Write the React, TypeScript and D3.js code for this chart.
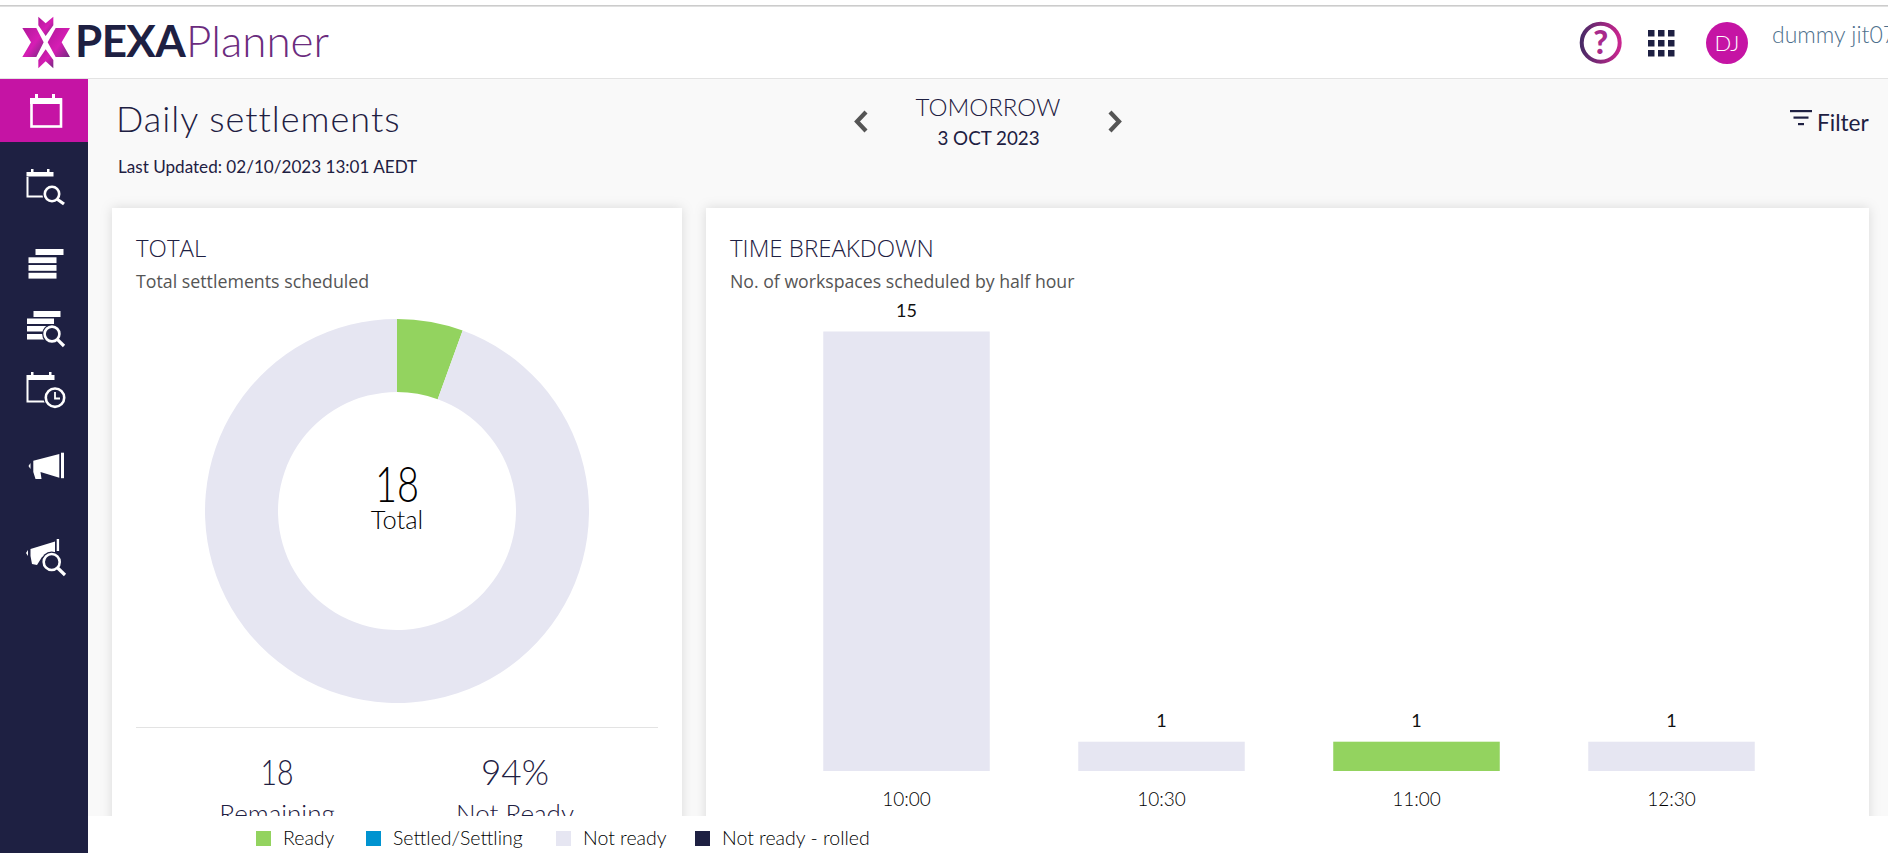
import React from "react";
import * as d3 from "d3";

const WIDTH = 1888;
const HEIGHT = 853;

// chart values
const donutLabels = ["Ready", "Not ready"];
const donutValues = [1, 17];
const slots = ["10:00", "10:30", "11:00", "12:30"];
const slotCounts = [15, 1, 1, 1];
const slotStatus = ["Not ready", "Not ready", "Ready", "Not ready"];
const legendLabels = ["Ready", "Settled/Settling", "Not ready", "Not ready - rolled"];
const legendColors = ["#93d35f", "#0093d0", "#e6e6f2", "#1e2042"];

const NAVY = "#1e2042";
const MAGENTA = "#c514a4";
const BODY_FONT = "Lato, 'Open Sans', sans-serif";
const HEAD_FONT = "'Open Sans', Lato, sans-serif";

const statusColor = d3.scaleOrdinal<string, string>().domain(legendLabels).range(legendColors);

const Lens = ({ cx, cy, r, x2, y2 }: { cx: number; cy: number; r: number; x2: number; y2: number }) => (
    <g>
        <circle cx={cx} cy={cy} r={r + 2.5} fill={NAVY} />
        <circle cx={cx} cy={cy} r={r} fill={NAVY} stroke="#fff" strokeWidth={2.6} />
        <line x1={cx + r * 0.72} y1={cy + r * 0.72} x2={x2} y2={y2} stroke="#fff" strokeWidth={3.2} />
    </g>
);

const Sidebar = () => (
    <g>
        <rect x={0} y={79} width={88} height={HEIGHT - 79} fill={NAVY} />
        <rect x={0} y={79} width={88} height={63} fill={MAGENTA} />
        {/* calendar */}
        <rect x={31.5} y={99.5} width={29.5} height={27} fill="none" stroke="#fff" strokeWidth={2.6} />
        <rect x={30} y={98} width={32} height={6} fill="#fff" />
        <rect x={35} y={94} width={3} height={5} fill="#fff" />
        <rect x={52} y={94} width={3} height={5} fill="#fff" />
        {/* calendar search */}
        <rect x={26.5} y={172} width={27} height={4.5} fill="#fff" />
        <rect x={31} y={169} width={2.5} height={4} fill="#fff" />
        <rect x={47} y={169} width={2.5} height={4} fill="#fff" />
        <path d="M27.5 177V196.5H43" fill="none" stroke="#fff" strokeWidth={2} />
        <Lens cx={52} cy={194} r={7.2} x2={64} y2={204} />
        {/* workspace list */}
        <rect x={35.5} y={249} width={28} height={6} fill="#fff" />
        <rect x={28.5} y={257.3} width={28} height={5.8} fill="#fff" />
        <rect x={28.5} y={265} width={28} height={5.8} fill="#fff" />
        <rect x={28.5} y={272.8} width={28} height={5.8} fill="#fff" />
        {/* workspace search */}
        <rect x={33.5} y={311} width={27} height={6} fill="#fff" />
        <rect x={27} y={318.5} width={27} height={5.5} fill="#fff" />
        <rect x={27} y={326} width={27} height={5.5} fill="#fff" />
        <rect x={27} y={334} width={27} height={5.5} fill="#fff" />
        <Lens cx={52} cy={334} r={7.4} x2={64} y2={346} />
        {/* calendar clock */}
        <rect x={26.5} y={375} width={28} height={5} fill="#fff" />
        <rect x={31} y={372} width={2.5} height={4} fill="#fff" />
        <rect x={49} y={372} width={2.5} height={4} fill="#fff" />
        <path d="M27.5 380V401.5H45" fill="none" stroke="#fff" strokeWidth={2} />
        <circle cx={55} cy={397.7} r={11.5} fill={NAVY} />
        <circle cx={55} cy={397.7} r={9.2} fill={NAVY} stroke="#fff" strokeWidth={2.6} />
        <path d="M55 392V398.5H60" fill="none" stroke="#fff" strokeWidth={1.8} />
        {/* megaphone */}
        <rect x={61} y={452.7} width={3} height={25.5} fill="#fff" />
        <path d="M33.3 460.7L59.3 454V477.7L40.5 472L41.5 479H35.5L33.3 472Z" fill="#fff" />
        <path d="M30.5 463L28.5 466L30.5 469Z" fill="#fff" />
        {/* megaphone search */}
        <rect x={56.7} y={539} width={2.4} height={12} fill="#fff" />
        <path d="M30.5 549L55 541.5V553L42 557L37 565L32 564L30.5 556Z" fill="#fff" />
        <path d="M28 550L26 553L28 556Z" fill="#fff" />
        <Lens cx={51.7} cy={562} r={8} x2={65} y2={575} />
    </g>
);

const Header = () => (
    <g>
        <defs>
            <linearGradient id="logoGrad" x1="0" x2="1" y1="0" y2="1">
                <stop offset="0" stopColor="#b0189a" />
                <stop offset="0.55" stopColor="#d61db4" />
                <stop offset="1" stopColor="#6f2a7c" />
            </linearGradient>
            <linearGradient id="helpGrad" x1="0" x2="1" y1="0" y2="0">
                <stop offset="0" stopColor="#4a2a66" />
                <stop offset="1" stopColor="#c9258f" />
            </linearGradient>
        </defs>
        <rect x={0} y={5} width={WIDTH} height={1.6} fill="#cccccc" />
        <rect x={0} y={78} width={WIDTH} height={1} fill="#e3e3e3" />
        {/* logo */}
        <g transform="translate(15,10) scale(0.3333)" fill="url(#logoGrad)">
            <path d="M70 20L92 40L115 20V46L92 78L70 46Z" />
            <path d="M70 175V150L92 118L115 150V175L92 154Z" />
            <path d="M22 54H64L86 97L64 141H22L48 97Z" />
            <path d="M165 54H122L98 97L122 141H165L140 97Z" />
        </g>
        <text x={75} y={57} fontFamily={BODY_FONT} fontWeight={700} fontSize={44} letterSpacing={-0.6} fill={NAVY}>
            PEXA
        </text>
        <text x={186} y={57} fontFamily={BODY_FONT} fontWeight={300} fontSize={44} fill="#6b2c7e">
            Planner
        </text>
        {/* right hand tools */}
        <circle cx={1600.7} cy={42.7} r={19} fill="none" stroke="url(#helpGrad)" strokeWidth={4} />
        <text x={1600.7} y={54} textAnchor="middle" fontFamily={BODY_FONT} fontWeight={900} fontSize={32} fill="#a82a8c">
            ?
        </text>
        {[0, 1, 2].flatMap((r) =>
            [0, 1, 2].map((c) => (
                <rect key={`${r}-${c}`} x={1648 + c * 10} y={30 + r * 10} width={6.5} height={6.5} fill={NAVY} />
            ))
        )}
        <circle cx={1727} cy={43} r={21} fill={MAGENTA} />
        <text x={1727} y={50.5} textAnchor="middle" fontFamily={BODY_FONT} fontWeight={300} fontSize={22} fill="#fff">
            DJ
        </text>
        <text x={1772} y={43} fontFamily={BODY_FONT} fontWeight={300} fontSize={23} fill="#4d6f8c">
            dummy jit07
        </text>
    </g>
);

const PageTitle = () => (
    <g fill={NAVY}>
        <text x={116} y={131.5} fontFamily={BODY_FONT} fontWeight={300} fontSize={36} letterSpacing={1}>
            Daily settlements
        </text>
        <text x={118} y={173} fontFamily={BODY_FONT} fontSize={17.1}>
            Last Updated: 02/10/2023 13:01 AEDT
        </text>
        <text x={988} y={115.5} textAnchor="middle" fontFamily={BODY_FONT} fontWeight={300} fontSize={24}>
            TOMORROW
        </text>
        <text x={988.5} y={145} textAnchor="middle" fontFamily={BODY_FONT} fontSize={18.8}>
            3 OCT 2023
        </text>
        <path d="M866 112L857 121.5L866 131" fill="none" stroke="#555" strokeWidth={4.2} />
        <path d="M1110 112L1119 121.5L1110 131" fill="none" stroke="#555" strokeWidth={4.2} />
        <rect x={1790} y={110} width={22} height={2.2} />
        <rect x={1793.5} y={116.5} width={15} height={2.2} />
        <rect x={1798} y={123} width={6} height={2.2} />
        <text x={1817} y={130.5} fontFamily={BODY_FONT} fontSize={22.6}>
            Filter
        </text>
    </g>
);

const TotalCard = () => {
    const pie = d3.pie<number>().sort(null)(donutValues);
    const arc = d3.arc<d3.PieArcDatum<number>>().innerRadius(119).outerRadius(192);
    const cx = 397;
    const cy = 511;
    return (
        <g>
            <text x={136} y={257} fontFamily={HEAD_FONT} fontWeight={300} fontSize={24} fill={NAVY}>
                TOTAL
            </text>
            <text x={136} y={288} fontFamily={HEAD_FONT} fontSize={17.8} fill="#555">
                Total settlements scheduled
            </text>
            <g transform={`translate(${cx},${cy})`}>
                {pie.map((d, i) => (
                    <path key={donutLabels[i]} d={arc(d) ?? ""} fill={statusColor(donutLabels[i])} />
                ))}
                <text
                    y={-9}
                    textAnchor="middle"
                    fontFamily={BODY_FONT}
                    fontWeight={300}
                    fontSize={49}
                    fill="#000"
                    textLength={44}
                    lengthAdjust="spacingAndGlyphs"
                >
                    {d3.sum(donutValues)}
                </text>
                <text y={18} textAnchor="middle" fontFamily={BODY_FONT} fontWeight={300} fontSize={25.5} fill="#000">
                    Total
                </text>
            </g>
            <rect x={136} y={727} width={522} height={1} fill="#e3e3e3" />
            <g fill={NAVY} textAnchor="middle" fontFamily={BODY_FONT} fontWeight={300}>
                <text x={277} y={785} fontSize={35} textLength={33} lengthAdjust="spacingAndGlyphs">
                    {d3.sum(donutValues)}
                </text>
                <text x={515} y={785} fontSize={35}>
                    {d3.format(".0%")(donutValues[1] / d3.sum(donutValues))}
                </text>
                <text x={277} y={823} fontSize={26}>
                    Remaining
                </text>
                <text x={515} y={823} fontSize={26}>
                    Not Ready
                </text>
            </g>
        </g>
    );
};

const BreakdownCard = () => {
    const x = d3.scaleBand<string>().domain(slots).range([779, 1799]).paddingInner(0.347).paddingOuter(0.1735);
    const y = d3.scaleLinear().domain([0, 15]).range([771, 331.5]);
    return (
        <g>
            <text x={730} y={257} fontFamily={HEAD_FONT} fontWeight={300} fontSize={24} fill={NAVY}>
                TIME BREAKDOWN
            </text>
            <text x={730} y={288} fontFamily={HEAD_FONT} fontSize={17.7} fill="#555">
                No. of workspaces scheduled by half hour
            </text>
            {slots.map((s, i) => {
                const mid = (x(s) ?? 0) + x.bandwidth() / 2;
                return (
                    <g key={s}>
                        <rect
                            x={x(s)}
                            y={y(slotCounts[i])}
                            width={x.bandwidth()}
                            height={y(0) - y(slotCounts[i])}
                            fill={statusColor(slotStatus[i])}
                        />
                        <text x={mid} y={y(slotCounts[i]) - 15} textAnchor="middle" fontFamily={BODY_FONT} fontSize={18} fill="#111">
                            {slotCounts[i]}
                        </text>
                        <text x={mid} y={y(0) + 35} textAnchor="middle" fontFamily={BODY_FONT} fontWeight={300} fontSize={19} fill="#000">
                            {s}
                        </text>
                    </g>
                );
            })}
        </g>
    );
};

const Legend = () => {
    const swatchX = [256, 366, 556, 695];
    return (
        <g>
            {legendLabels.map((label, i) => (
                <g key={label}>
                    <rect x={swatchX[i]} y={831} width={15} height={15} fill={legendColors[i]} />
                    <text x={swatchX[i] + 27} y={845} fontFamily={BODY_FONT} fontWeight={300} fontSize={19.5} fill="#000">
                        {label}
                    </text>
                </g>
            ))}
        </g>
    );
};

export default function App() {
    return (
        <svg width={WIDTH} height={HEIGHT} style={{ position: "absolute", left: 0, top: 0, display: "block" }}>
            <defs>
                <filter id="cardShadow" x="-10%" y="-10%" width="120%" height="120%">
                    <feDropShadow dx={0} dy={0} stdDeviation={6} floodColor="#000" floodOpacity={0.13} />
                </filter>
                <clipPath id="pageClip">
                    <rect x={88} y={79} width={WIDTH - 88} height={816 - 79} />
                </clipPath>
            </defs>
            <rect width={WIDTH} height={HEIGHT} fill="#fff" />
            <g clipPath="url(#pageClip)">
                <rect x={88} y={79} width={WIDTH - 88} height={HEIGHT} fill="#f9f9f9" />
                <rect x={112} y={208} width={570} height={700} fill="#fff" filter="url(#cardShadow)" />
                <rect x={706} y={208} width={1163} height={700} fill="#fff" filter="url(#cardShadow)" />
                <PageTitle />
                <TotalCard />
                <BreakdownCard />
            </g>
            <Header />
            <Sidebar />
            <Legend />
        </svg>
    );
}
